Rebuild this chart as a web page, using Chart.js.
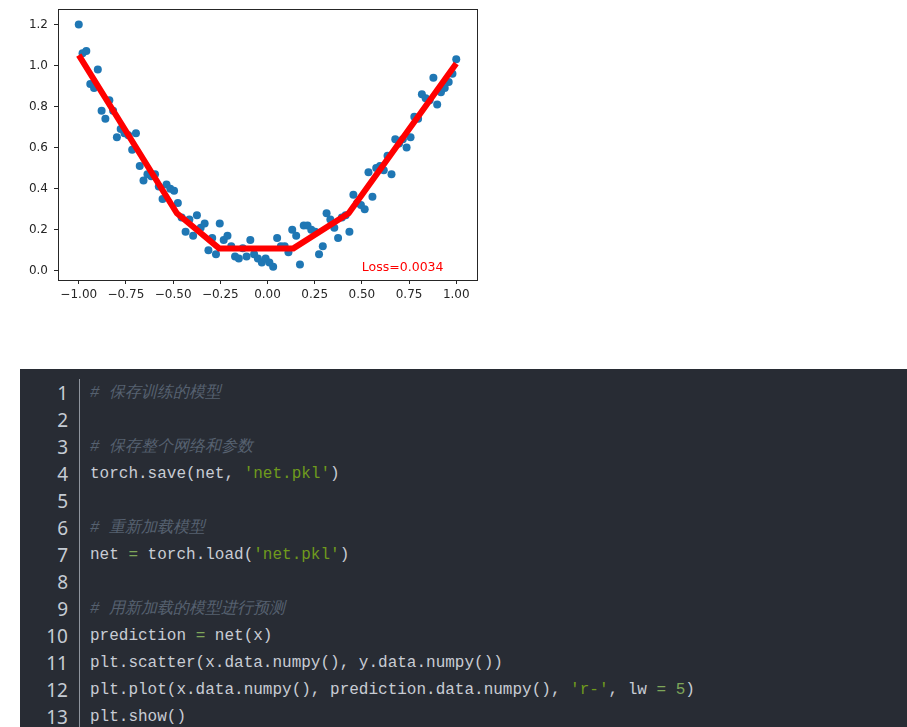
<!DOCTYPE html>
<html>
<head>
<meta charset="utf-8">
<script src="https://cdn.jsdelivr.net/npm/chart.js@4/dist/chart.umd.min.js"></script>
<style>
  html, body { margin: 0; padding: 0; background: #fff; width: 907px; height: 727px; overflow: hidden; }
  #plot { position: absolute; left: 0; top: 0; }
  .code {
    position: absolute; left: 20px; top: 369px; width: 887px; height: 358px;
    background: #282c34; overflow: hidden;
  }
  .gutter {
    position: absolute; left: 0; top: 11px; width: 48px; text-align: right;
    font-family: "Noto Sans", sans-serif; font-size: 19px; color: #c5cbd3;
  }
  .sep { position: absolute; left: 59px; top: 10px; bottom: 0; width: 1px; background: #8f959e; }
  .lines {
    position: absolute; left: 70px; top: 11px;
    font-family: "Liberation Mono", "DejaVu Sans Mono", monospace; font-size: 16px; color: #c8ccd4;
  }
  .gutter div, .lines div { height: 27px; line-height: 27px; white-space: pre; }
  .c { color: #566170; font-style: italic; }
  .s { color: #6f9a1d; }
  .o { color: #7ea65a; }
</style>
</head>
<body>
<canvas id="plot" width="490" height="310"></canvas>
<div class="code">
  <div class="gutter">
    <div>1</div><div>2</div><div>3</div><div>4</div><div>5</div><div>6</div><div>7</div>
    <div>8</div><div>9</div><div>10</div><div>11</div><div>12</div><div>13</div>
  </div>
  <div class="sep"></div>
  <div class="lines">
    <div><span class="c"># 保存训练的模型</span></div>
    <div> </div>
    <div><span class="c"># 保存整个网络和参数</span></div>
    <div>torch.save(net, <span class="s">'net.pkl'</span>)</div>
    <div> </div>
    <div><span class="c"># 重新加载模型</span></div>
    <div>net <span class="o">=</span> torch.load(<span class="s">'net.pkl'</span>)</div>
    <div> </div>
    <div><span class="c"># 用新加载的模型进行预测</span></div>
    <div>prediction <span class="o">=</span> net(x)</div>
    <div>plt.scatter(x.data.numpy(), y.data.numpy())</div>
    <div>plt.plot(x.data.numpy(), prediction.data.numpy(), <span class="s">'r-'</span>, lw <span class="o">=</span> <span class="o">5</span>)</div>
    <div>plt.show()</div>
  </div>
</div>
<script>
// x positions of the samples (100 evenly spaced points between -1 and 1)
const sampleX = [
  -1.000, -0.980, -0.960, -0.939, -0.919, -0.899, -0.879, -0.859, -0.838, -0.818,
  -0.798, -0.778, -0.758, -0.737, -0.717, -0.697, -0.677, -0.657, -0.636, -0.616,
  -0.596, -0.576, -0.556, -0.535, -0.515, -0.495, -0.475, -0.455, -0.434, -0.414,
  -0.394, -0.374, -0.354, -0.333, -0.313, -0.293, -0.273, -0.253, -0.232, -0.212,
  -0.192, -0.172, -0.152, -0.131, -0.111, -0.091, -0.071, -0.051, -0.030, -0.010,
   0.010,  0.030,  0.051,  0.071,  0.091,  0.111,  0.131,  0.152,  0.172,  0.192,
   0.212,  0.232,  0.253,  0.273,  0.293,  0.313,  0.333,  0.354,  0.374,  0.394,
   0.414,  0.434,  0.455,  0.475,  0.495,  0.515,  0.535,  0.556,  0.576,  0.596,
   0.616,  0.636,  0.657,  0.677,  0.697,  0.717,  0.737,  0.758,  0.778,  0.798,
   0.818,  0.838,  0.859,  0.879,  0.899,  0.919,  0.939,  0.960,  0.980,  1.000
];
// noisy targets
const sampleY = [
  1.20, 1.06, 1.07, 0.91, 0.89, 0.98, 0.78, 0.74, 0.83, 0.78,
  0.65, 0.69, 0.67, 0.66, 0.59, 0.67, 0.51, 0.44, 0.47, 0.46,
  0.47, 0.41, 0.35, 0.42, 0.40, 0.39, 0.33, 0.26, 0.19, 0.25,
  0.17, 0.27, 0.21, 0.23, 0.10, 0.16, 0.08, 0.23, 0.15, 0.17,
  0.12, 0.07, 0.06, 0.11, 0.07, 0.15, 0.08, 0.06, 0.04, 0.06,
  0.04, 0.02, 0.16, 0.12, 0.12, 0.09, 0.20, 0.17, 0.03, 0.22,
  0.22, 0.20, 0.19, 0.08, 0.12, 0.28, 0.25, 0.21, 0.16, 0.26,
  0.27, 0.19, 0.37, 0.33, 0.32, 0.30, 0.48, 0.36, 0.50, 0.51,
  0.49, 0.56, 0.47, 0.64, 0.62, 0.64, 0.60, 0.65, 0.75, 0.74,
  0.86, 0.84, 0.83, 0.94, 0.81, 0.87, 0.89, 0.92, 0.96, 1.03
];
// network prediction (piecewise linear)
const predX = [-1.00, -0.48, -0.256, 0.137, 0.43, 1.00];
const predY = [1.05, 0.28, 0.109, 0.109, 0.28, 1.01];

const xTicks = [-1.00, -0.75, -0.50, -0.25, 0.00, 0.25, 0.50, 0.75, 1.00];
const yTicks = [0.0, 0.2, 0.4, 0.6, 0.8, 1.0, 1.2];
const lossLabel = 'Loss=0.0034';

const scatterPts = sampleX.map((x, i) => ({ x: x, y: sampleY[i] }));
const predPts = predX.map((x, i) => ({ x: x, y: predY[i] }));

const tickFont = { family: 'DejaVu Sans', size: 12 };
const axisColor = '#262626';

// matplotlib style box around the axes + loss text
const framePlugin = {
  id: 'frame',
  afterDatasetsDraw(chart) {
    const ctx = chart.ctx;
    const a = chart.chartArea;
    ctx.save();
    ctx.strokeStyle = axisColor;
    ctx.lineWidth = 1;
    ctx.strokeRect(Math.round(a.left) + 0.5, Math.round(a.top) + 0.5,
      Math.round(a.right - a.left), Math.round(a.bottom - a.top));
    ctx.fillStyle = '#ff0000';
    ctx.font = '12.5px "DejaVu Sans"';
    ctx.textBaseline = 'alphabetic';
    ctx.fillText(lossLabel, chart.scales.x.getPixelForValue(0.5), chart.scales.y.getPixelForValue(0));
    ctx.restore();
  }
};

const fmtMinus = (v, d) => {
  const s = Math.abs(v).toFixed(d);
  return v < 0 ? '\u2212' + s : s;
};

new Chart(document.getElementById('plot').getContext('2d'), {
  type: 'scatter',
  data: {
    datasets: [
      {
        type: 'line',
        data: predPts,
        borderColor: '#ff0000',
        borderWidth: 6,
        pointRadius: 0,
        fill: false,
        order: 0
      },
      {
        data: scatterPts,
        backgroundColor: '#1f77b4',
        borderWidth: 0,
        pointRadius: 4,
        order: 1
      }
    ]
  },
  options: {
    responsive: false,
    animation: false,
    devicePixelRatio: 1,
    layout: { padding: { top: 9, right: 13, left: 0, bottom: 0 } },
    plugins: { legend: { display: false }, tooltip: { enabled: false } },
    scales: {
      x: {
        type: 'linear',
        min: -1.11,
        max: 1.11,
        afterBuildTicks: scale => { scale.ticks = xTicks.map(v => ({ value: v })); },
        afterFit: scale => {
          scale.height = 30;
          scale.paddingLeft = 0;
          scale.paddingRight = 0;
        },
        grid: { drawOnChartArea: false, drawTicks: true, tickLength: 4, color: axisColor },
        border: { display: false },
        ticks: {
          font: tickFont,
          color: axisColor,
          padding: 4,
          maxRotation: 0,
          autoSkip: false,
          callback: v => fmtMinus(v, 2)
        }
      },
      y: {
        type: 'linear',
        min: -0.045,
        max: 1.275,
        afterBuildTicks: scale => { scale.ticks = yTicks.map(v => ({ value: v })); },
        afterFit: scale => {
          scale.width = 58;
          scale.paddingTop = 0;
          scale.paddingBottom = 0;
        },
        grid: { drawOnChartArea: false, drawTicks: true, tickLength: 4, color: axisColor },
        border: { display: false },
        ticks: {
          font: tickFont,
          color: axisColor,
          padding: 6,
          autoSkip: false,
          callback: v => fmtMinus(v, 1)
        }
      }
    }
  },
  plugins: [framePlugin]
});
</script>
</body>
</html>
